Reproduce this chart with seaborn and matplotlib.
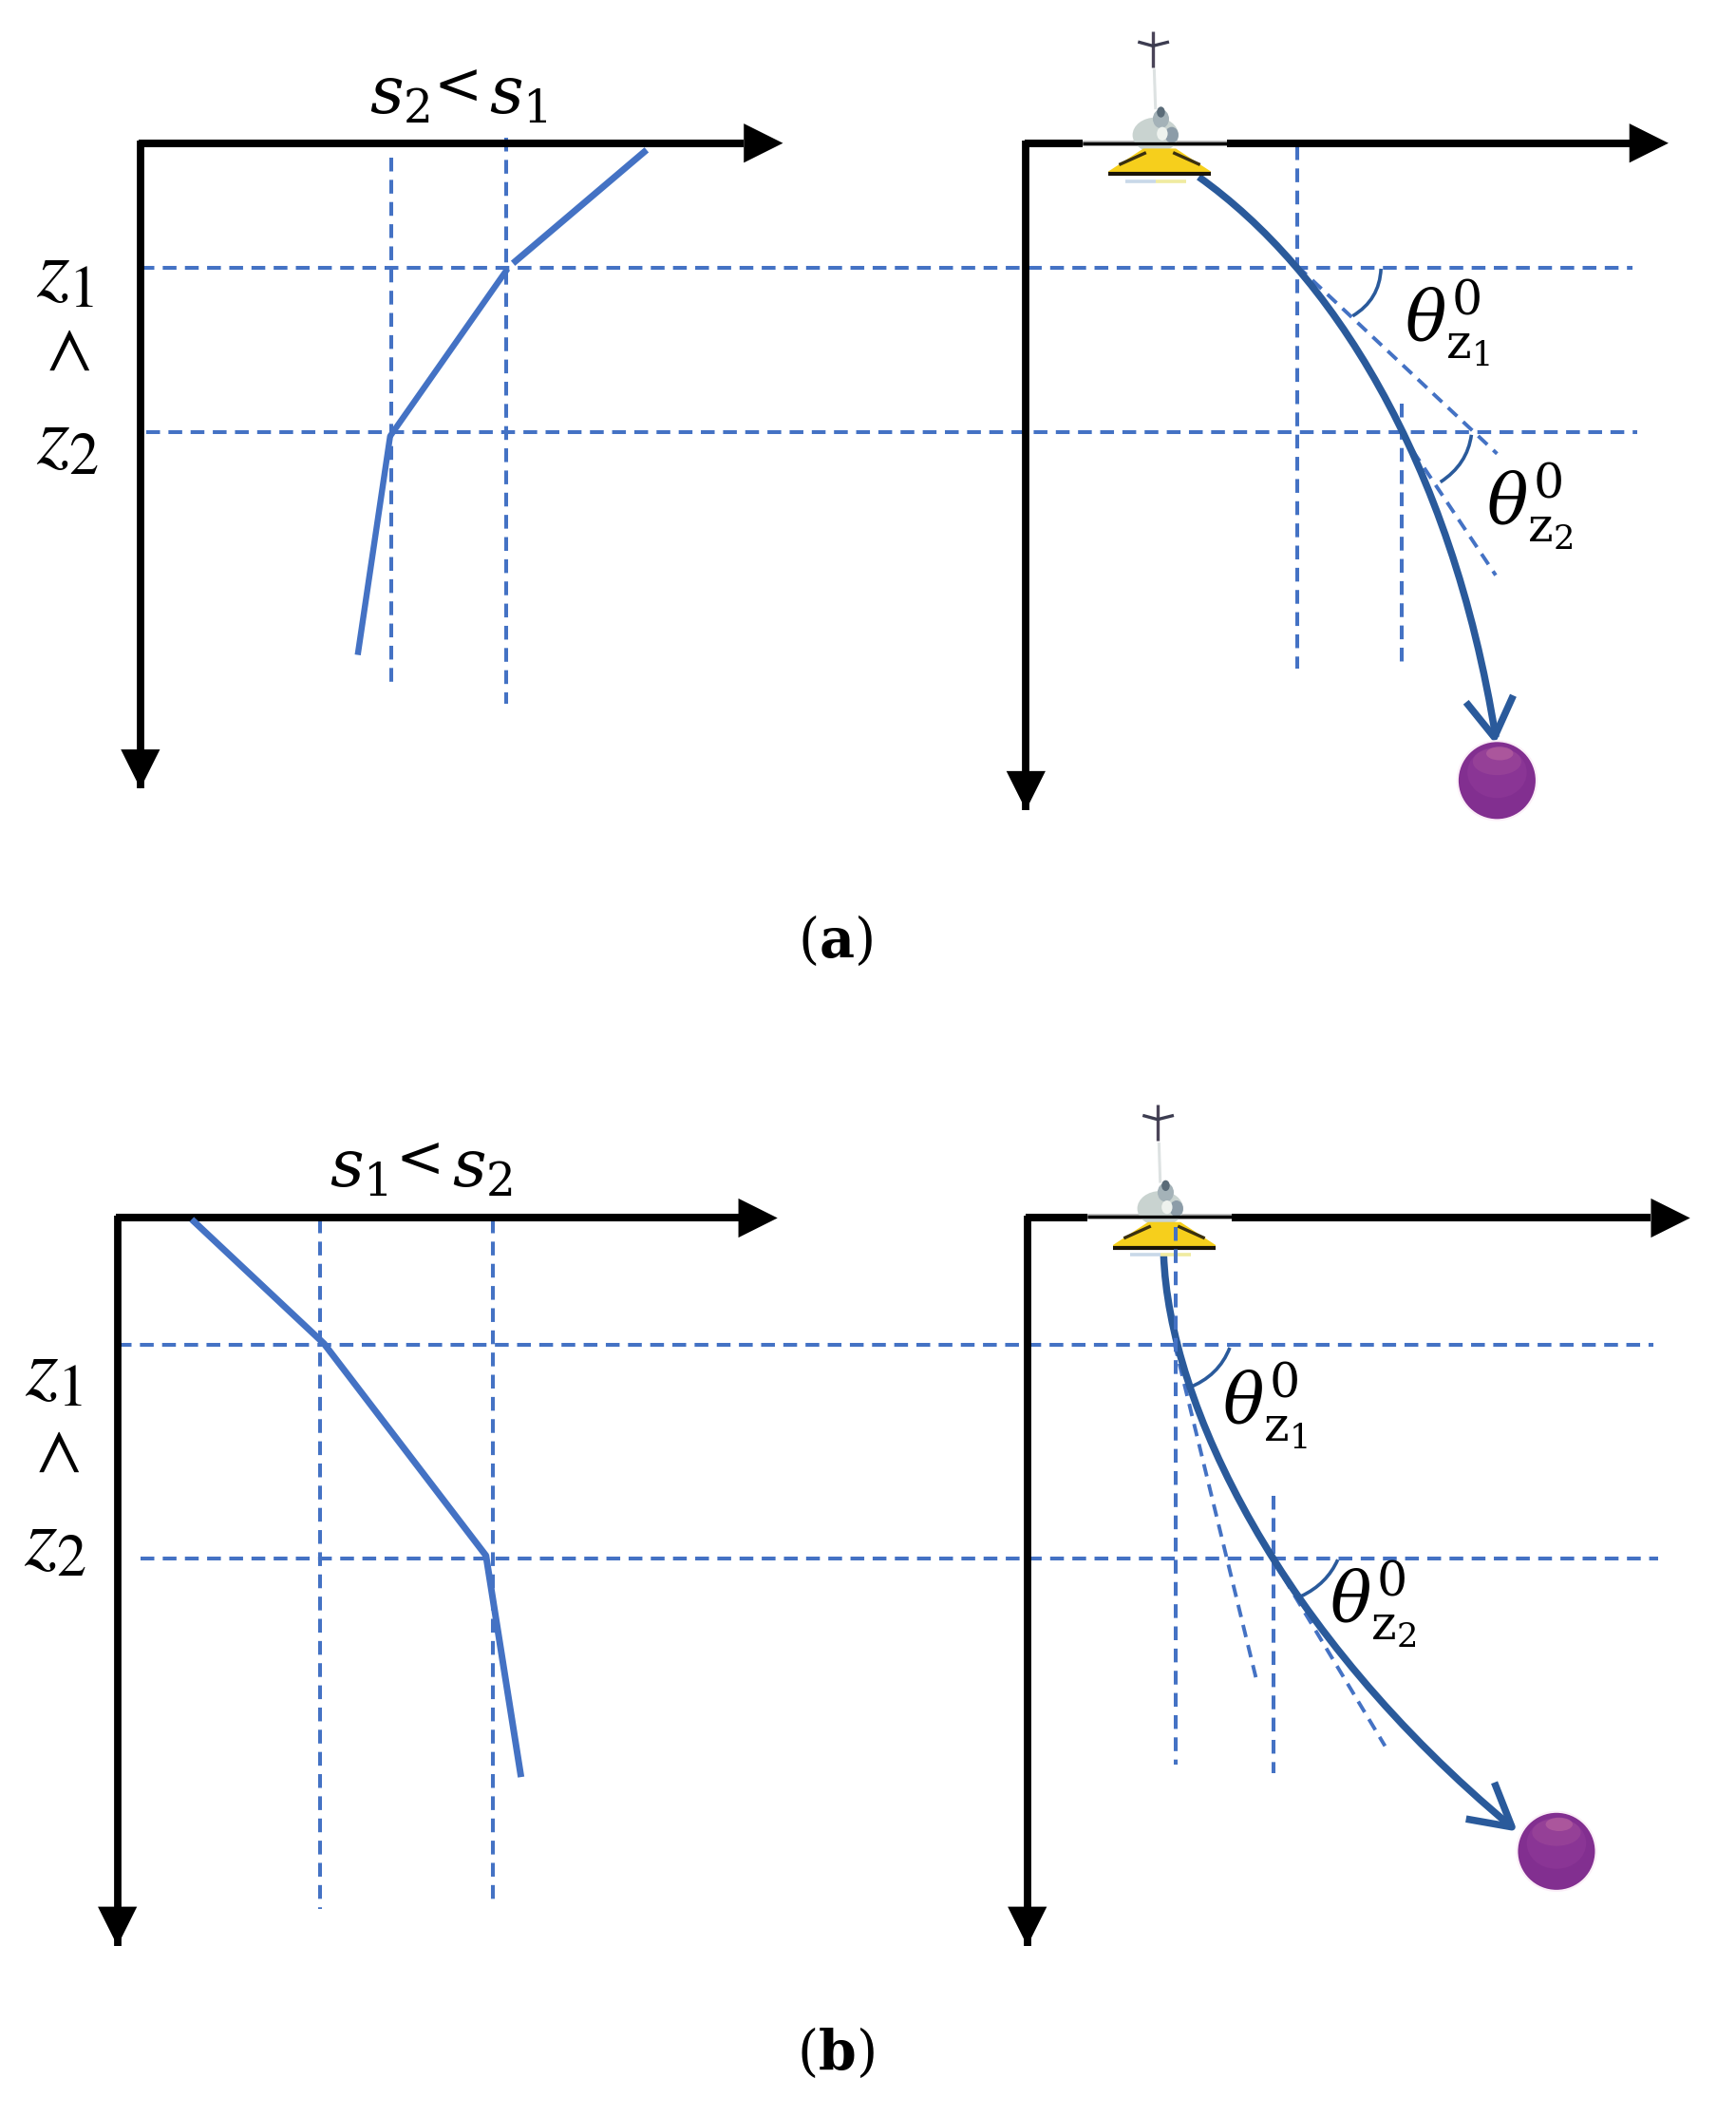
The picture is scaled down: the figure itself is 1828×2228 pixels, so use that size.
import matplotlib
matplotlib.use("Agg")
import matplotlib.pyplot as plt
import pandas as pd
import seaborn as sns
from matplotlib.patches import Ellipse, PathPatch
from matplotlib.path import Path

# ---------- data (diagram coordinates) ----------
a_axis_left = ([104, 104, 551], [584, 106, 106])
a_axis_right = ([760, 760, 1207], [600, 106, 106])
b_axis_left = ([87, 87, 547], [1441, 902, 902])
b_axis_right = ([761, 761, 1223], [1441, 902, 902])

a_prof1_x = [479, 380]; a_prof1_z = [111, 195]
a_prof2_x = [376, 289, 265]; a_prof2_z = [199, 323, 485]
b_prof_x = [142, 240, 360, 386]; b_prof_z = [903, 995, 1152, 1316]

a_ray = [(888, 131), (985, 200), (1075, 340), (1108, 546)]
b_ray = [(862, 929), (866, 1040), (948, 1210), (1120, 1353)]

a_hdash = [(198, 104, 1209), (320, 108, 1213)]
a_vdash = [(290, 117, 507), (375, 102, 521), (961, 108, 495), (1038.5, 299, 495)]
b_hdash = [(996, 87, 1225), (1154, 104, 1228)]
b_vdash = [(237, 903, 1414), (365, 903, 1410), (943.5, 1108, 1313)]
b_vdash_over = [(871, 909, 1307)]

a_tangents = [([961, 1109], [197, 336]), ([1038, 1108], [321, 426])]
b_tangents = [([870, 931], [995, 1245]), ([943, 1026], [1155, 1293])]

a_arcs = [[(1023, 199), (1022, 222), (1002, 234)], [(1090, 322), (1087, 344), (1067, 357)]]
b_arcs = [[(911, 998), (903, 1019), (880, 1028)], [(991, 1155), (983, 1173), (964, 1182)]]

a_head = ([1086, 1107, 1121], [520, 546, 515])
b_head = ([1086, 1120, 1107], [1347, 1353, 1320])

balls = [(1109, 578), (1153, 1371)]
devices = [(859, 126), (862.5, 921)]

depth_labels = [(48, 202, r"$z_1$"), (50, 326, r"$z_2$"), (40, 1016, r"$z_1$"), (41, 1142, r"$z_2$")]
angle_labels = [
    (1072, 239, r"$\theta_{\mathrm{z}_1}^{0}$"), (1133, 375, r"$\theta_{\mathrm{z}_2}^{0}$"),
    (937, 1041, r"$\theta_{\mathrm{z}_1}^{0}$"), (1017, 1188, r"$\theta_{\mathrm{z}_2}^{0}$"),
]
title_a = [(296, 70, r"$s_2$"), (339, 65, "<"), (384, 70, r"$s_1$")]
title_b = [(266, 865, r"$s_1$"), (311, 860, "<"), (357, 865, r"$s_2$")]
wedges = [(51, 258), (43, 1074)]
captions = [(619, 697, r"$\mathrm{(}\mathbf{a}\mathrm{)}$"), (619, 1521, r"$\mathrm{(}\mathbf{b}\mathrm{)}$")]

# ---------- style ----------
sns.set_theme(style="white")
plt.rcParams["mathtext.fontset"] = "dejavuserif"
plt.rcParams["font.family"] = ["DejaVu Serif"]
BLUE = "#4472C4"; DARK = "#2A5A9B"
W, H = 1286, 1567

fig = plt.figure(figsize=(18.28, 22.28), dpi=100)
ax = fig.add_axes([0, 0, 1, 1])


def line(x, y, color="black", lw=5.8, dashes=None, z=2, cap="butt"):
    df = pd.DataFrame({"x": x, "y": y})
    sns.lineplot(data=df, x="x", y="y", sort=False, estimator=None, color=color, lw=lw, ax=ax, zorder=z)
    art = ax.lines[-1]
    art.set_solid_capstyle(cap); art.set_solid_joinstyle("round")
    if dashes:
        art.set_linestyle((0, dashes)); art.set_dash_capstyle("butt")
    return art


def bezier(pts, color, lw, z=4):
    codes = {3: [Path.MOVETO, Path.CURVE3, Path.CURVE3],
             4: [Path.MOVETO, Path.CURVE4, Path.CURVE4, Path.CURVE4]}[len(pts)]
    ax.add_patch(PathPatch(Path(pts, codes), fc="none", ec=color, lw=lw, zorder=z, capstyle="butt"))


def axes_pair(ax_xy):
    xs, ys = ax_xy
    line(xs[:2], [ys[0], ys[1] - 2], lw=5.6, z=3)
    line([xs[1] - 1, xs[2]], ys[1:], lw=5.8, z=3)
    ax.fill([xs[0] - 14.5, xs[0], xs[0] + 14.5], [ys[0] - 29, ys[0], ys[0] - 29], color="black", lw=0, zorder=3)
    ax.fill([xs[2], xs[2] + 29, xs[2]], [ys[2] - 14.5, ys[2], ys[2] + 14.5], color="black", lw=0, zorder=3)


DASH = (3.6, 2.2)
for a in (a_axis_left, a_axis_right, b_axis_left, b_axis_right):
    axes_pair(a)
for y, x0, x1 in a_hdash + b_hdash:
    line([x0, x1], [y, y], BLUE, 2.9, DASH)
for x, y0, y1 in a_vdash + b_vdash:
    line([x, x], [y0, y1], BLUE, 2.9, DASH)
for x, y0, y1 in b_vdash_over:
    line([x, x], [y0, y1], BLUE, 2.9, DASH, z=4.8)
for tx, tz in a_tangents + b_tangents:
    line(tx, tz, BLUE, 2.8, (3.4, 2.2))

line(a_prof1_x, a_prof1_z, BLUE, 5.0, z=3.2)
line(a_prof2_x, a_prof2_z, BLUE, 4.6, z=3.2)
line(b_prof_x, b_prof_z, BLUE, 5.0, z=3.2)
bezier(a_ray, DARK, 5.4)
bezier(b_ray, DARK, 5.4)
line(*a_head, DARK, 5.4, z=4, cap="butt")
line(*b_head, DARK, 5.4, z=4, cap="butt")
for arc in a_arcs + b_arcs:
    bezier(arc, DARK, 2.6)

# target balls
for cx, cy in balls:
    ax.add_patch(Ellipse((cx, cy), 60, 60, fc="#FBEFF8", ec="none", zorder=4.9))
    ax.add_patch(Ellipse((cx, cy), 57, 57, fc="#822F90", ec="none", zorder=5))
    ax.add_patch(Ellipse((cx, cy - 6), 44, 38, fc="#8A3595", ec="none", zorder=5))
    ax.add_patch(Ellipse((cx, cy - 14), 36, 20, fc="#9A4699", ec="none", alpha=.7, zorder=5))
    ax.add_patch(Ellipse((cx + 2, cy - 20), 20, 10, fc="#B5609F", ec="none", alpha=.7, zorder=5))

# survey vessels
for cx, cy in devices:
    ax.fill([cx - 57, cx + 50, cx + 50, cx - 57], [cy - 31, cy - 31, cy + 16, cy + 16],
            color="white", lw=0, zorder=3.5)
    line([cx - 57, cx + 50], [cy - 20, cy - 20], "#B0B0B0", 4.0, z=3.6)
    line([cx - 57, cx + 50], [cy - 20, cy - 20], "black", 2.4, z=4.1)
    ax.add_patch(Ellipse((cx - 3, cy - 26), 34, 26, fc="#C9D3D0", ec="none", zorder=4))
    ax.add_patch(Ellipse((cx + 1, cy - 38), 12, 14, fc="#A4B2B8", ec="none", zorder=4))
    ax.add_patch(Ellipse((cx + 1, cy - 43), 6, 8, fc="#5A6B78", ec="none", zorder=4))
    ax.add_patch(Ellipse((cx + 9, cy - 26), 10, 12, fc="#8C9CA8", ec="none", zorder=4))
    ax.add_patch(Ellipse((cx + 2, cy - 27), 8, 10, fc="#EEF2EE", ec="none", zorder=4))
    ax.fill([cx - 38, cx - 12, cx + 12, cx + 38, cx + 38, cx - 38],
            [cy + 1, cy - 16, cy - 16, cy + 1, cy + 4, cy + 4], color="#F6CF1C", lw=0, zorder=4.2)
    line([cx - 38, cx + 38], [cy + 3, cy + 3], "#1A1408", 3.0, z=4.5)
    line([cx - 30, cx - 10], [cy - 4, cy - 13], "#3A3010", 2.4, z=4.5)
    line([cx + 10, cx + 30], [cy - 13, cy - 4], "#3A3010", 2.4, z=4.5)
    line([cx - 25, cx - 3], [cy + 8, cy + 8], "#C8D8E8", 2.6, z=4.3)
    line([cx - 3, cx + 20], [cy + 8, cy + 8], "#F0EBA0", 2.6, z=4.3)
    line([cx - 4, cx - 3], [cy - 75, cy - 45], "#DDE2E2", 2.2, z=4)
    line([cx - 5, cx - 5], [cy - 103, cy - 76], "#4A4458", 2.4, z=4.5)
    line([cx - 16, cx - 5, cx + 7], [cy - 95, cy - 92, cy - 95], "#3C3C50", 2.4, z=4.5)

for x, y, s in depth_labels:
    ax.text(x, y, s, ha="center", va="center", fontsize=64, color="black", zorder=6, math_fontfamily="stix")
for x, y, s in angle_labels:
    ax.text(x, y, s, ha="center", va="center", fontsize=52, color="black", zorder=6)
for x, y, s in title_a + title_b:
    ax.text(x, y, s, ha="center", va="center", fontsize=44 if s == "<" else 50, color="black", zorder=6)
for x, y in wedges:
    ax.text(x, y, r"$\wedge$", ha="center", va="center", fontsize=54, color="black", zorder=6, math_fontfamily="stix")
for x, y, s in captions:
    ax.text(x, y, s, ha="center", va="center", fontsize=41, color="black", zorder=6)

ax.set_xlim(0, W)
ax.set_ylim(H, 0)
ax.axis("off")
fig.savefig("out.png", dpi=100, facecolor="white")
